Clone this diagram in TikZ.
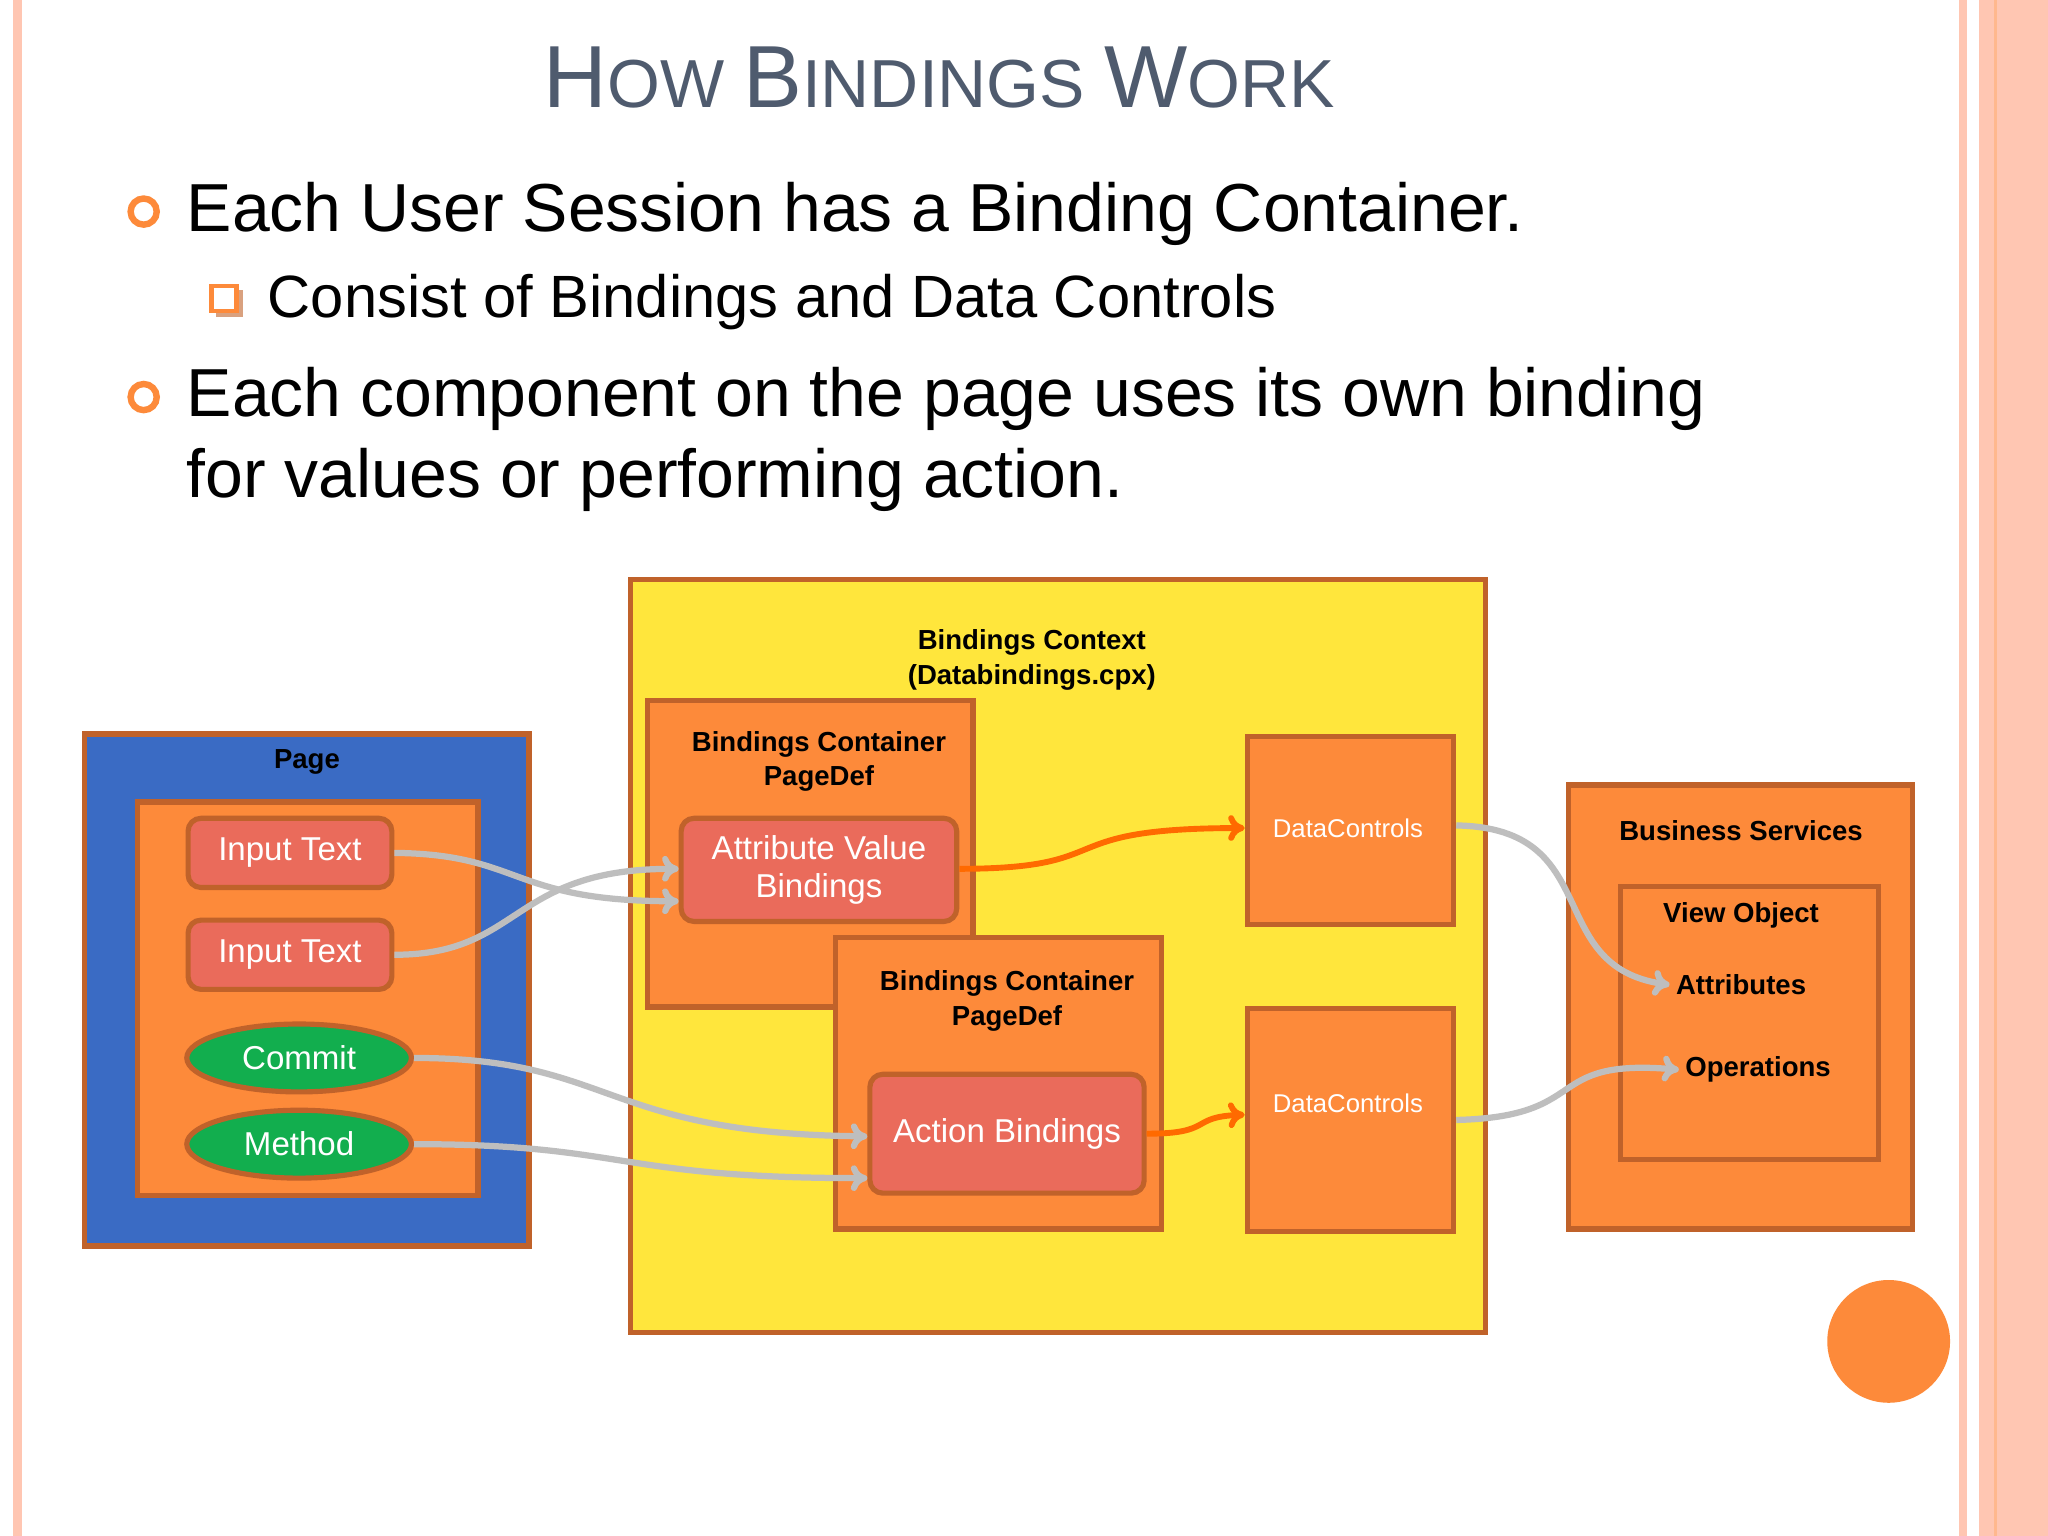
\documentclass[tikz,border=0pt]{standalone}
\usepackage{fontspec}
\setmainfont{Liberation Sans}
\usetikzlibrary{arrows.meta}
\definecolor{rim}{HTML}{C0622A}
\definecolor{orng}{HTML}{FD8A3A}
\definecolor{salm}{HTML}{EA6B5B}
\definecolor{pgblue}{HTML}{3A6BC4}
\definecolor{ctxyel}{HTML}{FFE63C}
\definecolor{grn}{HTML}{12AE4E}
\definecolor{wire}{HTML}{BEBEBE}
\definecolor{hot}{HTML}{FF6A00}
\definecolor{ttl}{HTML}{4F5B6E}
\definecolor{edge}{HTML}{FFC6B2}
\tikzstyle{box} = [draw=rim, line width=2.8pt, fill=orng]
\tikzstyle{btn} = [draw=rim, line width=2.8pt, fill=salm, rounded corners=7pt, text=white, font=\fontsize{18}{21}\selectfont, align=center]
\tikzstyle{oval} = [draw=rim, line width=2.8pt, fill=grn, ellipse, text=white, font=\fontsize{18}{21}\selectfont]
\tikzstyle{lbl} = [font=\bfseries\fontsize{15}{19}\selectfont, align=center]
\tikzstyle{dc} = [text=white, font=\fontsize{14}{17}\selectfont]
\tikzstyle{gw} = [draw=wire, line width=3.4pt, -{To[length=9pt,width=14pt]}]
\tikzstyle{hw} = [draw=hot, line width=3.2pt, -{To[length=9pt,width=14pt]}]
\usetikzlibrary{shapes.geometric}
\begin{document}
\begin{tikzpicture}[x=0.025cm,y=-0.025cm]
    \useasboundingbox (0,0) rectangle (1568,1176);
    \fill[white] (0,0) rectangle (1568,1176);
    % page edges
    \fill[edge] (10,0) rectangle (17,1176);
    \fill[edge] (1500,0) rectangle (1506,1176);
    \fill[edge] (1515,0) rectangle (1568,1176);
    \fill[edge!80!orange] (1527,0) rectangle (1529,1176);

    % title and bullets
    \node (title) [text=ttl, anchor=base] at (719,82) {\fontsize{48}{58}\selectfont H\fontsize{37}{44}\selectfont OW \fontsize{48}{58}\selectfont B\fontsize{37}{44}\selectfont INDINGS \fontsize{48}{58}\selectfont W\fontsize{37}{44}\selectfont ORK};
    \draw[orng, line width=3.5pt] (110,162) circle (10);
    \draw[orng, line width=3.5pt] (110,304) circle (10);
    \fill[rim!60] (165,222) rectangle (186,243);
    \filldraw[fill=white, draw=orng, line width=2.5pt] (162,219) rectangle (181,238);
    \node (b1) [anchor=base west, font=\fontsize{37}{44}\selectfont] at (138,177) {Each User Session has a Binding Container.};
    \node (b2) [anchor=base west, font=\fontsize{32.5}{40}\selectfont] at (200,243) {Consist of Bindings and Data Controls};
    \node (b3) [anchor=base west, font=\fontsize{37}{44}\selectfont] at (138,319) {Each component on the page uses its own binding};
    \node (b4) [anchor=base west, font=\fontsize{37}{44}\selectfont] at (138,381) {for values or performing action.};

    % page
    \draw[draw=rim, line width=2.8pt, fill=pgblue] (65,562) rectangle (405,954);
    \node (page) [lbl] at (235,583) {Page};
    \draw[box] (105,614) rectangle (366,915);
    \node (in1) [btn, minimum width=156*0.025cm, minimum height=53*0.025cm] at (222,653) {Input Text};
    \node (in2) [btn, minimum width=156*0.025cm, minimum height=53*0.025cm] at (222,731) {Input Text};
    \node (commit) [oval, minimum width=172*0.025cm, minimum height=52*0.025cm] at (229,810) {Commit};
    \node (method) [oval, minimum width=172*0.025cm, minimum height=52*0.025cm] at (229,876) {Method};

    % bindings context
    \draw[draw=rim, line width=2.8pt, fill=ctxyel] (483,444) rectangle (1137,1020);
    \node (ctx) [lbl] at (790,505) {Bindings Context\\(Databindings.cpx)};
    \draw[box] (496,536) rectangle (745,771);
    \node (bc1) [lbl] at (627,583) {Bindings Container\\PageDef};
    \node (avb) [btn, minimum width=211*0.025cm, minimum height=79*0.025cm] at (627,666) {Attribute Value\\Bindings};
    \draw[box] (640,718) rectangle (889,941);
    \node (bc2) [lbl] at (771,766) {Bindings Container\\PageDef};
    \node (act) [btn, minimum width=210*0.025cm, minimum height=91*0.025cm] at (771,868) {Action Bindings};
    \node (dc1) [box, minimum width=158*0.025cm, minimum height=144*0.025cm, anchor=north west] at (953,562) {};
    \node [dc] at (1032,634) {DataControls};
    \node (dc2) [box, minimum width=158*0.025cm, minimum height=171*0.025cm, anchor=north west] at (953,770) {};
    \node [dc] at (1032,845) {DataControls};

    % business services
    \draw[box] (1201,601) rectangle (1464,941);
    \node (bs) [lbl] at (1333,636) {Business Services};
    \draw[box] (1241,679) rectangle (1438,888);
    \node (vo) [lbl] at (1333,701) {View Object};
    \node (attr) [lbl] at (1333,754) {Attributes};
    \node (ops) [lbl] at (1346,819) {Operations};

    \fill[orng] (1446,1027) circle (47);

    % connectors
    \path[gw] (in1.east) .. controls (400,654) and (390,690) .. ([yshift=-0.6cm]avb.west);
    \path[gw] (in2.east) .. controls (400,731) and (390,665) .. ([yshift=0.02cm]avb.west);
    \path[gw] (commit.east) .. controls (470,810) and (460,868) .. ([yshift=-0.05cm]act.west);
    \path[gw] (method.east) .. controls (480,876) and (470,902) .. ([yshift=-0.85cm]act.west);
    \path[hw] ([yshift=0.02cm]avb.east) .. controls (860,665) and (800,634) .. ([yshift=0.05cm]dc1.west);
    \path[hw] (act.east) .. controls (930,868) and (910,855) .. ([yshift=0.1cm]dc2.west);
    \path[gw] ([yshift=0.1cm]dc1.east) .. controls (1230,634) and (1180,740) .. (attr.west);
    \path[gw] (dc2.east) .. controls (1220,855) and (1180,810) .. (ops.west);
\end{tikzpicture}
\end{document}
